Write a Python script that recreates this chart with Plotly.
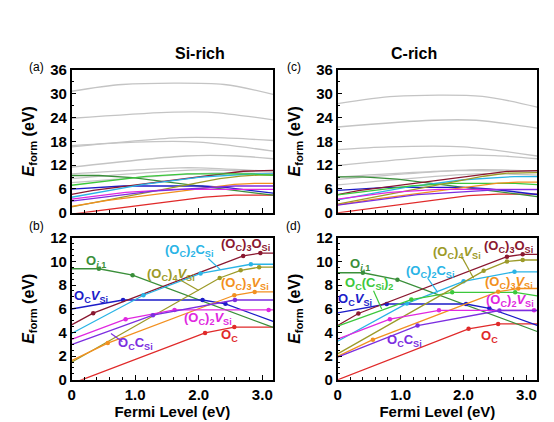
import plotly.graph_objects as go

XMAX = 3.17

# ---- Si-rich, kink points (Fermi level, E_form) ----
OC_SI = [(0, -0.33), (2.10, 3.96), (2.56, 4.45), (XMAX, 4.45)]
OI1_SI = [(0, 9.38), (0.43, 9.38), (0.96, 8.84), (XMAX, 4.42)]
OCVSI_SI = [(0, 5.98), (0.81, 6.74), (2.06, 6.74), (2.42, 6.42), (XMAX, 4.93)]
OC3OSI_SI = [(0, 4.64), (0.34, 5.63), (2.70, 10.46), (2.97, 10.70), (XMAX, 10.70)]
OC2CSI_SI = [(0, 3.91), (1.13, 7.14), (2.03, 8.98), (2.82, 9.76), (XMAX, 9.76)]
OC4VSI_SI = [(0, 1.48), (2.33, 8.60), (2.66, 9.25), (2.95, 9.51), (XMAX, 9.51)]
OC3VSI_SI = [(0, 1.62), (0.57, 3.10), (2.56, 7.14), (2.88, 7.42), (XMAX, 7.42)]
OC2VSI_SI = [(0, 3.42), (0.85, 5.12), (1.62, 5.90), (3.10, 5.90), (XMAX, 5.90)]
OCCSI_SI = [(0, 2.96), (1.28, 5.46), (2.57, 6.74), (XMAX, 6.74)]
OCCSI2_SI = [(0, 6.93), (1.17, 9.18), (1.82, 9.79), (2.82, 9.79), (XMAX, 9.44)]

# ---- C-rich ----
OC_C = [(0, 0.0), (2.08, 4.30), (2.55, 4.72), (XMAX, 4.72)]
OI1_C = [(0, 9.04), (0.40, 9.04), (0.95, 8.46), (XMAX, 4.08)]
OCVSI_C = [(0, 5.65), (0.78, 6.40), (2.04, 6.40), (2.41, 6.04), (XMAX, 4.60)]
OC3OSI_C = [(0, 4.59), (0.33, 5.60), (2.69, 10.40), (2.94, 10.60), (XMAX, 10.60)]
OC2CSI_C = [(0, 3.25), (1.10, 6.45), (2.00, 8.32), (2.81, 9.12), (XMAX, 9.12)]
OC4VSI_C = [(0, 2.19), (2.32, 9.20), (2.69, 10.00), (2.94, 10.12), (XMAX, 10.12)]
OC3VSI_C = [(0, 1.97), (0.56, 3.39), (2.55, 7.44), (2.87, 7.71), (XMAX, 7.71)]
OC2VSI_C = [(0, 3.44), (0.83, 5.12), (1.61, 5.87), (3.12, 5.87), (XMAX, 5.87)]
OCCSI_C = [(0, 1.92), (1.27, 4.58), (2.57, 5.85), (XMAX, 5.85)]
OCCSI2_C = [(0, 4.53), (1.17, 6.78), (1.82, 7.39), (2.82, 7.39), (XMAX, 7.08)]

# ---- high-energy defects (grey, top panels) ----
GREY_SI = [
    [(0, 30.6), (0.8, 32.3), (2.4, 32.3), (XMAX, 29.8)],
    [(0, 23.8), (1.5, 25.3), (2.2, 25.3), (XMAX, 23.4)],
    [(0, 16.6), (1.7, 18.9), (2.3, 18.9), (XMAX, 18.2)],
    [(0, 16.9), (1.0, 17.8), (2.0, 17.8), (XMAX, 15.5)],
    [(0, 11.5), (1.8, 14.3), (2.6, 14.3), (XMAX, 13.6)],
    [(0, 9.8), (1.7, 11.3), (2.0, 11.3), (XMAX, 10.4)],
    [(0, 8.6), (2.0, 10.8), (XMAX, 10.2)],
    [(0, 7.6), (2.2, 10.0), (XMAX, 9.8)],
]
GREY_C = [
    [(0, 27.5), (0.9, 29.3), (2.3, 29.3), (XMAX, 26.6)],
    [(0, 21.6), (1.5, 23.3), (2.2, 23.3), (XMAX, 21.3)],
    [(0, 15.9), (0.8, 16.6), (2.0, 16.6), (XMAX, 14.3)],
    [(0, 11.9), (1.8, 14.4), (2.5, 14.4), (XMAX, 13.6)],
    [(0, 9.0), (1.9, 10.6), (XMAX, 10.3)],
    [(0, 8.4), (2.1, 10.8), (XMAX, 10.5)],
    [(0, 7.0), (2.2, 9.8), (XMAX, 9.5)],
]

X_TICKS = [0, 1, 2, 3]
X_TICKTEXT = ["0", "1.0", "2.0", "3.0"]

COL = {
    "OC": "#e02a2a", "OI1": "#3a8f3a", "OCVSI": "#1c1cc8", "OC3OSI": "#8a1830",
    "OC2CSI": "#2ab4e6", "OC4VSI": "#9c9a28", "OC3VSI": "#f29020",
    "OC2VSI": "#e028e0", "OCCSI": "#7c2ee0", "OCCSI2": "#3cc83c",
}

SI_RICH = [("OC", OC_SI), ("OI1", OI1_SI), ("OCVSI", OCVSI_SI), ("OC3OSI", OC3OSI_SI),
           ("OC2CSI", OC2CSI_SI), ("OC4VSI", OC4VSI_SI), ("OC3VSI", OC3VSI_SI),
           ("OC2VSI", OC2VSI_SI), ("OCCSI", OCCSI_SI)]
C_RICH = [("OC", OC_C), ("OI1", OI1_C), ("OCVSI", OCVSI_C), ("OC3OSI", OC3OSI_C),
          ("OC2CSI", OC2CSI_C), ("OCCSI2", OCCSI2_C), ("OC4VSI", OC4VSI_C),
          ("OC3VSI", OC3VSI_C), ("OC2VSI", OC2VSI_C), ("OCCSI", OCCSI_C)]

LABEL = {
    "OC": "O<sub>C</sub>",
    "OI1": "O<sub><i>i</i>,1</sub>",
    "OCVSI": "O<sub>C</sub><i>V</i><sub>Si</sub>",
    "OC3OSI": "(O<sub>C</sub>)<sub>3</sub>O<sub>Si</sub>",
    "OC2CSI": "(O<sub>C</sub>)<sub>2</sub>C<sub>Si</sub>",
    "OC4VSI": "(O<sub>C</sub>)<sub>4</sub><i>V</i><sub>Si</sub>",
    "OC3VSI": "(O<sub>C</sub>)<sub>3</sub><i>V</i><sub>Si</sub>",
    "OC2VSI": "(O<sub>C</sub>)<sub>2</sub><i>V</i><sub>Si</sub>",
    "OCCSI": "O<sub>C</sub>C<sub>Si</sub>",
    "OCCSI2": "O<sub>C</sub>(C<sub>Si</sub>)<sub>2</sub>",
}

# label positions (data coords)
LAB_SI = {"OI1": (0.39, 9.98), "OC2CSI": (1.84, 10.88), "OC3OSI": (2.73, 11.44),
          "OC4VSI": (1.56, 8.93), "OCVSI": (0.31, 7.07), "OC3VSI": (2.73, 8.12),
          "OC2VSI": (2.15, 5.20), "OC": (2.49, 3.76), "OCCSI": (1.01, 3.03)}
LAB_C = {"OI1": (0.36, 9.70), "OCCSI2": (0.50, 8.10), "OC2CSI": (1.46, 9.17),
         "OC4VSI": (1.90, 10.77), "OC3OSI": (2.71, 11.30), "OC3VSI": (2.73, 8.24),
         "OC2VSI": (2.74, 6.67), "OCVSI": (0.28, 6.77), "OCCSI": (1.07, 3.30),
         "OC": (2.42, 3.65)}
LEAD_SI = [("OC2CSI", (2.15, 10.25), (2.34, 9.31)), ("OC4VSI", (1.69, 8.50), (2.00, 7.55)),
           ("OCCSI", (0.62, 3.90), (0.80, 3.22))]
LEAD_C = [("OCCSI2", (0.57, 7.52), (0.70, 5.98)), ("OC2CSI", (1.43, 8.58), (1.59, 7.38)),
          ("OC4VSI", (1.98, 10.32), (2.16, 8.58))]

FONT = "Liberation Sans, Arial, sans-serif"
fig = go.Figure()


def add_lines(data, xa, ya, markers):
    for key, pts in data:
        xs = [p[0] for p in pts]
        ys = [p[1] for p in pts]
        fig.add_trace(go.Scatter(x=xs, y=ys, mode="lines", xaxis=xa, yaxis=ya,
                                 line=dict(color=COL[key], width=1.3), hoverinfo="skip"))
        if markers:
            mx = [p[0] for p in pts[1:] if p[0] < XMAX]
            my = [p[1] for p in pts[1:] if p[0] < XMAX]
            fig.add_trace(go.Scatter(x=mx, y=my, mode="markers", xaxis=xa, yaxis=ya,
                                     marker=dict(color=COL[key], size=4.5), hoverinfo="skip"))


def add_grey(curves, xa, ya):
    for pts in curves:
        fig.add_trace(go.Scatter(x=[p[0] for p in pts], y=[p[1] for p in pts], mode="lines",
                                 xaxis=xa, yaxis=ya,
                                 line=dict(color="#c4c4c4", width=1.3, shape="spline", smoothing=0.8),
                                 hoverinfo="skip"))


add_grey(GREY_SI, "x", "y")
add_lines(SI_RICH + [("OCCSI2", OCCSI2_SI)], "x", "y", False)
add_lines(SI_RICH, "x2", "y2", True)
add_grey(GREY_C, "x3", "y3")
add_lines(C_RICH, "x3", "y3", False)
add_lines(C_RICH, "x4", "y4", True)

annotations = []
shapes = []
for labs, leads, xr, yr in [(LAB_SI, LEAD_SI, "x2", "y2"), (LAB_C, LEAD_C, "x4", "y4")]:
    for key, (lx, ly) in labs.items():
        annotations.append(dict(x=lx, y=ly, xref=xr, yref=yr, text=LABEL[key],
                                showarrow=False,
                                font=dict(size=13, color=COL[key], family=FONT, weight="bold")))
    for key, p0, p1 in leads:
        shapes.append(dict(type="line", xref=xr, yref=yr, x0=p0[0], y0=p0[1], x1=p1[0], y1=p1[1],
                           line=dict(color=COL[key], width=1.2)))

for txt, x, y in [("(a)", 15, 43), ("(b)", 15, 218), ("(c)", 284, 43), ("(d)", 284, 218)]:
    annotations.append(dict(x=x / 554, y=1 - y / 422, xref="paper", yref="paper", text=txt,
                            showarrow=False, font=dict(size=12, color="black", family=FONT)))
for txt, x in [("Si-rich", 162), ("C-rich", 430)]:
    annotations.append(dict(x=x / 554, y=1 - 27 / 422, xref="paper", yref="paper", text=txt,
                            showarrow=False,
                            font=dict(size=16, color="black", family=FONT, weight="bold")))

ytitle = "<i>E</i><sub>form</sub> (eV)"
BOLD14 = dict(size=15, family=FONT, color="black", weight="bold")


def xax(dom, labels):
    d = dict(domain=dom, range=[0, XMAX], showline=True, mirror=True, linecolor="black", linewidth=1.5,
             ticks="inside", ticklen=5, tickcolor="black", tickwidth=1.2,
             tickmode="array", tickvals=X_TICKS, ticktext=X_TICKTEXT,
             showgrid=False, zeroline=False, tickfont=BOLD14,
             minor=dict(ticks="inside", ticklen=3, dtick=0.2, tick0=0, tickcolor="black", showgrid=False))
    if labels:
        d["title"] = dict(text="Fermi Level (eV)",
                          font=dict(size=15, family=FONT, color="black", weight="bold"), standoff=5)
    else:
        d["showticklabels"] = False
    return d


def yax(dom, top, step, minor, anchor):
    return dict(domain=dom, range=[0, top], anchor=anchor, showline=True, mirror=True, linecolor="black",
                linewidth=1.5, ticks="inside", ticklen=5, tickcolor="black", tickwidth=1.2, dtick=step,
                tick0=0, showgrid=False, zeroline=False, tickfont=BOLD14,
                title=dict(text=ytitle, font=dict(size=16, family=FONT, color="black", weight="bold"),
                           standoff=12),
                minor=dict(ticks="inside", ticklen=3, dtick=minor, tickcolor="black", showgrid=False))


XA = [60 / 554, 263 / 554]
XC = [328 / 554, 529 / 554]
YT = [1 - 204 / 422, 1 - 55 / 422]
YB = [1 - 378 / 422, 1 - 230 / 422]

fig.update_layout(
    width=554, height=422, margin=dict(l=0, r=0, t=0, b=0),
    paper_bgcolor="white", plot_bgcolor="white", showlegend=False,
    font=dict(family=FONT, color="black"),
    xaxis=dict(xax(XA, False), anchor="y"),
    yaxis=yax(YT, 36, 6, 3, "x"),
    xaxis2=dict(xax(XA, True), anchor="y2"),
    yaxis2=yax(YB, 12, 2, 0.5, "x2"),
    xaxis3=dict(xax(XC, False), anchor="y3"),
    yaxis3=yax(YT, 36, 6, 3, "x3"),
    xaxis4=dict(xax(XC, True), anchor="y4"),
    yaxis4=yax(YB, 12, 2, 0.5, "x4"),
    annotations=annotations, shapes=shapes,
)

fig.write_html("out.html")
